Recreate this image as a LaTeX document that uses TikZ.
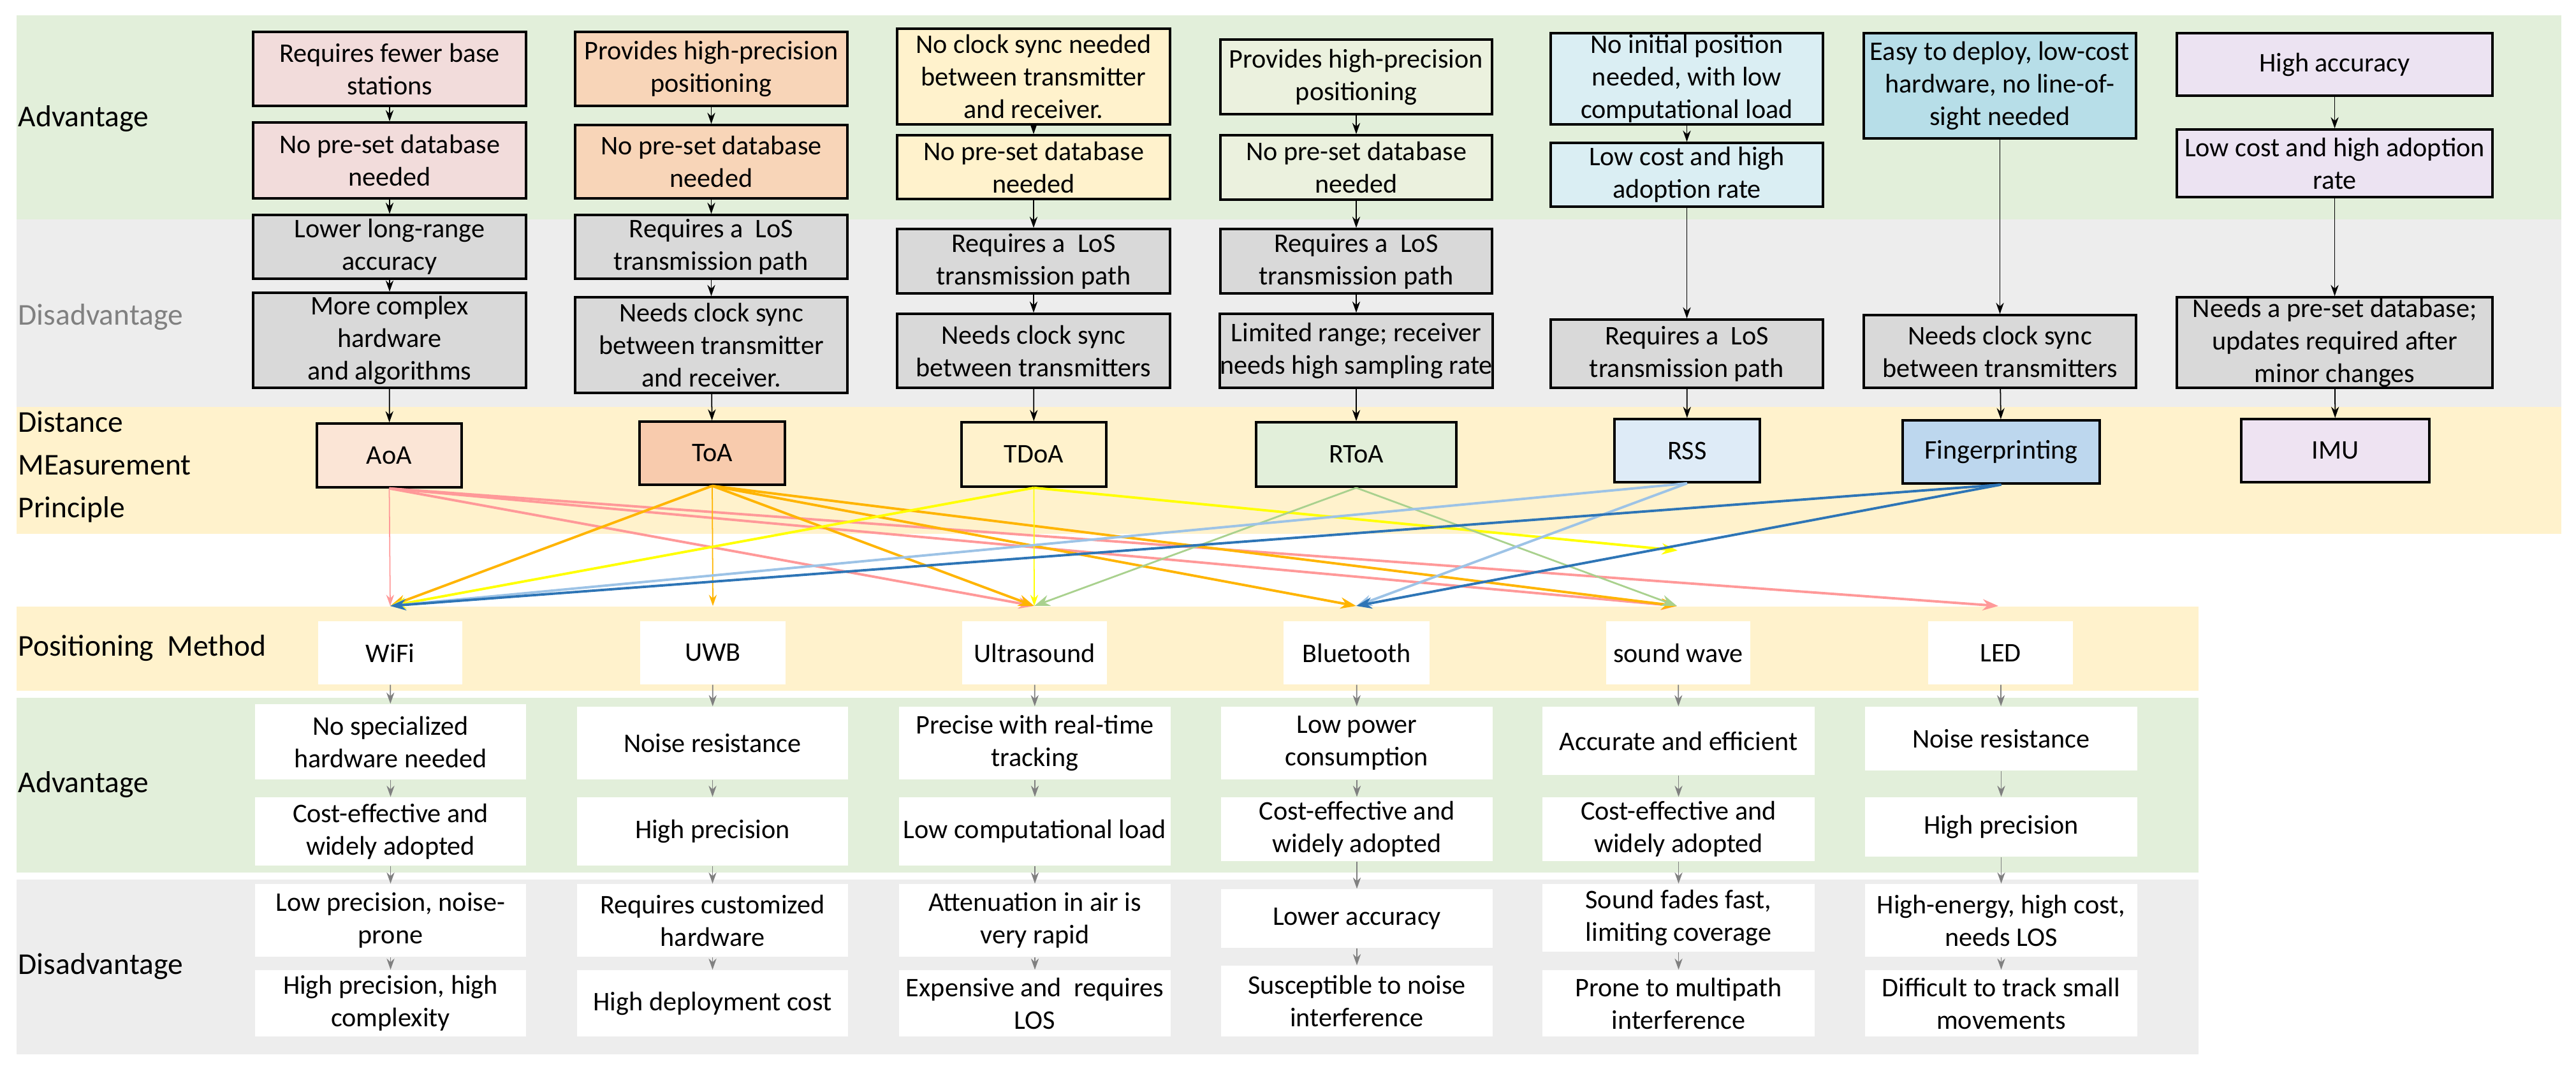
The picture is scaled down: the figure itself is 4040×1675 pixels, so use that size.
\documentclass[tikz,border=0pt]{standalone}
\usepackage{fontspec}
\setmainfont{Carlito}
\usetikzlibrary{arrows.meta}
\definecolor{bgG}{HTML}{E2EFDA}\definecolor{bgY}{HTML}{FFF2CC}\definecolor{bgS}{HTML}{EDEDED}
\definecolor{c1}{HTML}{F2DCDB}\definecolor{c2}{HTML}{F8D5B8}\definecolor{c3}{HTML}{FFF2CC}
\definecolor{c4}{HTML}{EBF1DE}\definecolor{c5}{HTML}{DAEEF3}\definecolor{c6}{HTML}{B7DEE8}\definecolor{c7}{HTML}{ECE3F2}
\definecolor{n1}{HTML}{FBE5D6}\definecolor{n2}{HTML}{F8CBAD}\definecolor{n3}{HTML}{FFF2CC}
\definecolor{n4}{HTML}{E2EFDA}\definecolor{n5}{HTML}{DEEBF7}\definecolor{n6}{HTML}{BDD7EE}\definecolor{n7}{HTML}{EEE3F2}
\definecolor{lpink}{HTML}{FF9999}\definecolor{lor}{HTML}{FFB400}\definecolor{lyel}{HTML}{FFFF00}
\definecolor{lgr}{HTML}{A9D18E}\definecolor{llb}{HTML}{9DC3E6}\definecolor{ldb}{HTML}{2E75B6}
\newcommand\bx[7]{\node[#6, minimum width={(#4-#2)*0.01cm}, minimum height={(#5-#3)*0.01cm}] (#1) at ({(#2+#4)/2},{(#3+#5)/2}) {#7};}
\begin{document}
\begin{tikzpicture}[x=0.01cm,y=-0.01cm,
  every node/.style={font=\fontsize{12}{14.5}\selectfont, align=center, inner sep=0pt},
  box/.style={draw=black, line width=1pt},
  gbox/.style={box, fill=gray!30},
  wbox/.style={fill=white},
  lab/.style={anchor=west, align=left, font=\fontsize{13.5}{19}\selectfont},
  ar/.style={-{Stealth[length=5pt,width=3.5pt]}, line width=0.5pt},
  gar/.style={ar, draw=gray},
  cl/.style={-{Stealth[length=7pt,width=5pt]}, line width=1.1pt}]
\useasboundingbox (0,0) rectangle (4040,1675);
% bands
\fill[bgG] (26,24) rectangle (4017,344);
\fill[bgS] (26,344) rectangle (4017,638);
\fill[bgY] (26,638) rectangle (4017,837);
\fill[bgY] (26,951) rectangle (3448,1083);
\fill[bgG] (26,1094) rectangle (3448,1368);
\fill[bgS] (26,1379) rectangle (3448,1653);
% labels
\node[lab] (L1) at (28,186) {Advantage};
\node[lab, text=gray] (L2) at (28,497) {Disadvantage};
\node[lab] (L3) at (28,732) {Distance\\MEasurement\\Principle};
\node[lab] (L4) at (28,1016) {Positioning\ \ Method};
\node[lab] (L5) at (28,1230) {Advantage};
\node[lab] (L6) at (28,1515) {Disadvantage};
% col 1
\bx{a1}{397}{50}{825}{166}{box,fill=c1}{Requires fewer base\\stations}
\bx{a2}{397}{192}{825}{311}{box,fill=c1}{No pre-set database\\needed}
\bx{a3}{397}{337}{825}{437}{gbox}{Lower long-range\\accuracy}
\bx{a4}{397}{459}{825}{608}{gbox}{More complex\\hardware\\and algorithms}
\bx{AoA}{497}{664}{724}{764}{box,fill=n1}{AoA}
% col 2
\bx{b1}{902}{50}{1329}{166}{box,fill=c2}{Provides high-precision\\positioning}
\bx{b2}{902}{196}{1329}{311}{box,fill=c2}{No pre-set database\\needed}
\bx{b3}{902}{337}{1329}{437}{gbox}{Requires a\ \ LoS\\transmission path}
\bx{b4}{902}{466}{1329}{616}{gbox}{Needs clock sync\\between transmitter\\and receiver.}
\bx{ToA}{1003}{661}{1231}{760}{box,fill=n2}{ToA}
% col 3
\bx{c1b}{1407}{45}{1835}{195}{box,fill=c3}{No clock sync needed\\between transmitter\\and receiver.}
\bx{c2b}{1407}{212}{1835}{312}{box,fill=c3}{No pre-set database\\needed}
\bx{c3b}{1407}{359}{1835}{460}{gbox}{Requires a\ \ LoS\\transmission path}
\bx{c4b}{1407}{492}{1835}{608}{gbox}{Needs clock sync\\between transmitters}
\bx{TDoA}{1508}{662}{1735}{763}{box,fill=n3}{TDoA}
% col 4
\bx{d1}{1914}{62}{2340}{179}{box,fill=c4}{Provides high-precision\\positioning}
\bx{d2}{1914}{212}{2340}{313}{box,fill=c4}{No pre-set database\\needed}
\bx{d3}{1914}{359}{2340}{460}{gbox}{Requires a\ \ LoS\\transmission path}
\bx{d4}{1914}{492}{2340}{608}{gbox}{Limited range; receiver\\needs high sampling rate}
\bx{RToA}{1970}{662}{2284}{763}{box,fill=n4}{RToA}
% col 5
\bx{e1}{2432}{52}{2859}{195}{box,fill=c5}{No initial position\\needed, with low\\computational load}
\bx{e2}{2432}{224}{2859}{324}{box,fill=c5}{Low cost and high\\adoption rate}
\bx{e3}{2432}{501}{2859}{608}{gbox}{Requires a\ \ LoS\\transmission path}
\bx{RSS}{2532}{657}{2760}{756}{box,fill=n5}{RSS}
% col 6
\bx{f1}{2923}{52}{3350}{217}{box,fill=c6}{Easy to deploy, low-cost\\hardware, no line-of-\\sight needed}
\bx{f3}{2923}{494}{3350}{608}{gbox}{Needs clock sync\\between transmitters}
\bx{FP}{2984}{659}{3293}{758}{box,fill=n6}{Fingerprinting}
% col 7
\bx{g1}{3414}{52}{3909}{150}{box,fill=c7}{High accuracy}
\bx{g2}{3414}{203}{3909}{309}{box,fill=c7}{Low cost and high adoption\\rate}
\bx{g3}{3414}{466}{3909}{608}{gbox}{Needs a pre-set database;\\updates required after\\minor changes}
\bx{IMU}{3515}{657}{3810}{756}{box,fill=n7}{IMU}
% top arrows
\foreach \p/\q in {a1/a2,a2/a3,a3/a4,a4/AoA,b1/b2,b2/b3,b3/b4,b4/ToA,c1b/c2b,c2b/c3b,c3b/c4b,c4b/TDoA,
  d1/d2,d2/d3,d3/d4,d4/RToA,e1/e2,e2/e3,e3/RSS,f1/f3,f3/FP,g1/g2,g2/g3,g3/IMU}
  \draw[ar] (\p) -- (\q);
% methods
\bx{WiFi}{499}{974}{725}{1073}{wbox}{WiFi}
\bx{UWB}{1004}{974}{1232}{1073}{wbox}{UWB}
\bx{US}{1509}{974}{1736}{1073}{wbox}{Ultrasound}
\bx{BT}{2013}{974}{2242}{1073}{wbox}{Bluetooth}
\bx{SW}{2519}{974}{2745}{1073}{wbox}{sound wave}
\bx{LED}{3024}{974}{3251}{1073}{wbox}{LED}
\coordinate (tW) at (612,950);\coordinate (tU) at (1118,950);\coordinate (tUS) at (1622,950);
\coordinate (tB) at (2127,950);\coordinate (tS) at (2630,950);\coordinate (tL) at (3134,950);
\coordinate (tY) at (2631,863);
% connectors
\draw[ar,lpink] (AoA.south) -- (tW);
\foreach \t in {tUS,tS,tL} \draw[cl,lpink] (AoA.south) -- (\t);
\draw[ar,lor] (ToA.south) -- (tU);
\foreach \t in {tW,tUS,tB,tS} \draw[cl,lor] (ToA.south) -- (\t);
\draw[ar,lyel] (TDoA.south) -- (tUS);
\foreach \t in {tW,tY} \draw[cl,lyel] (TDoA.south) -- (\t);
\foreach \t in {tUS,tS} \draw[cl,lgr,line width=0.8pt] (RToA.south) -- (\t);
\foreach \t in {tW,tB} \draw[cl,llb] (RSS.south) -- (\t);
\foreach \t in {tW,tB} \draw[cl,ldb] (FP.south) -- (\t);
% lower columns
\bx{p1}{400}{1104}{825}{1222}{wbox}{No specialized\\hardware needed}
\bx{p2}{400}{1250}{825}{1357}{wbox}{Cost-effective and\\widely adopted}
\bx{p3}{400}{1386}{825}{1500}{wbox}{Low precision, noise-\\prone}
\bx{p4}{400}{1521}{825}{1625}{wbox}{High precision, high\\complexity}
\bx{q1}{905}{1108}{1330}{1222}{wbox}{Noise resistance}
\bx{q2}{905}{1250}{1330}{1357}{wbox}{High precision}
\bx{q3}{905}{1386}{1330}{1500}{wbox}{Requires customized\\hardware}
\bx{q4}{905}{1521}{1330}{1625}{wbox}{High deployment cost}
\bx{r1}{1410}{1108}{1836}{1222}{wbox}{Precise with real-time\\tracking}
\bx{r2}{1410}{1250}{1836}{1357}{wbox}{Low computational load}
\bx{r3}{1410}{1386}{1836}{1500}{wbox}{Attenuation in air is\\very rapid}
\bx{r4}{1410}{1521}{1836}{1625}{wbox}{Expensive and\ \ requires\\LOS}
\bx{s1}{1915}{1108}{2341}{1222}{wbox}{Low power\\consumption}
\bx{s2}{1915}{1250}{2341}{1350}{wbox}{Cost-effective and\\widely adopted}
\bx{s3}{1915}{1394}{2341}{1486}{wbox}{Lower accuracy}
\bx{s4}{1915}{1514}{2341}{1625}{wbox}{Susceptible to noise\\interference}
\bx{t1}{2419}{1108}{2846}{1215}{wbox}{Accurate and efficient}
\bx{t2}{2419}{1250}{2846}{1350}{wbox}{Cost-effective and\\widely adopted}
\bx{t3}{2419}{1386}{2846}{1492}{wbox}{Sound fades fast,\\limiting coverage}
\bx{t4}{2419}{1521}{2846}{1625}{wbox}{Prone to multipath\\interference}
\bx{u1}{2925}{1108}{3352}{1208}{wbox}{Noise resistance}
\bx{u2}{2925}{1250}{3352}{1343}{wbox}{High precision}
\bx{u3}{2925}{1386}{3352}{1500}{wbox}{High-energy, high cost,\\needs LOS}
\bx{u4}{2925}{1521}{3352}{1625}{wbox}{Difficult to track small\\movements}
\foreach \m/\a/\b/\c/\d in {WiFi/p1/p2/p3/p4,UWB/q1/q2/q3/q4,US/r1/r2/r3/r4,BT/s1/s2/s3/s4,SW/t1/t2/t3/t4,LED/u1/u2/u3/u4}
  {\draw[gar] (\m) -- (\a); \draw[gar] (\a) -- (\b); \draw[gar] (\b) -- (\c); \draw[gar] (\c) -- (\d);}
\end{tikzpicture}
\end{document}
